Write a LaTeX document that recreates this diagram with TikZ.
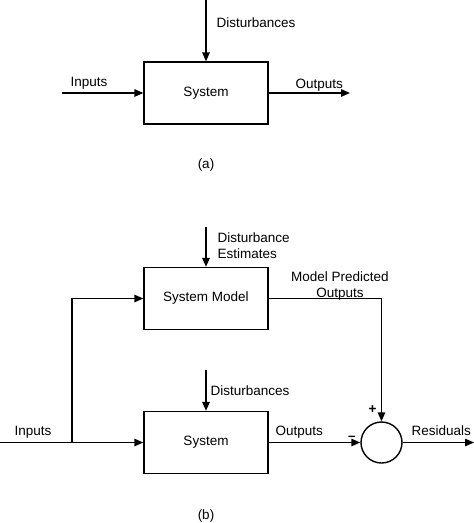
\documentclass[tikz,border=0pt]{standalone}
\usepackage{fontspec}
\setmainfont{Liberation Sans}
\usetikzlibrary{arrows.meta}

\begin{document}
\begin{tikzpicture}[x=1pt,y=-1pt,line width=1.4pt,>={Triangle[length=9pt,width=7.5pt]},
 font=\fontsize{13.5}{16}\selectfont,
 sysbox/.style={draw,minimum width=124pt,minimum height=62pt,inner sep=0pt},
 sumnode/.style={draw,circle,minimum size=41pt,inner sep=0pt},
 lbl/.style={anchor=base west,inner sep=0pt}]
 \useasboundingbox (0,0) rectangle (474,523); %枠
 % (a)
 \node[sysbox] (Sa) at (206,93) {System}; %システム
 \coordinate (Da) at (206,0); %外乱の始点
 \coordinate (Ia) at (62,93); %入力の始点
 \coordinate (Oa) at (350,93); %出力の終点
 \draw[->] (Da)--(Sa.north); %外乱
 \draw[->] (Ia)--(Sa.west); %入力
 \draw[->] (Sa.east)--(Oa); %出力
 \node[lbl] (DaL) at (216,27) {Disturbances};
 \node[lbl] (IaL) at (70,86.5) {Inputs};
 \node[lbl] (OaL) at (295,88) {Outputs};
 \node[anchor=base,inner sep=0pt] (capa) at (206,168.5) {(a)};
 % (b)
 \node[sysbox] (M) at (206,298.5) {System Model}; %モデル
 \node[sysbox] (Sb) at (206,442.5) {System}; %システム
 \node[sumnode] (Sum) at (381.5,442.5) {}; %加算点
 \coordinate (DE) at (206,227); %外乱推定の始点
 \coordinate (Db) at (206,370); %外乱の始点
 \coordinate (Ib) at (0,442.5); %入力の始点
 \coordinate (J) at (72,442.5); %分岐点
 \coordinate (R) at (474,442.5); %残差の終点
 \draw[->] (DE)--(M.north); %外乱推定
 \draw[->] (Db)--(Sb.north); %外乱
 \draw[->] (Ib)--(Sb.west); %入力
 \draw[->] (J)|-(M.west); %入力(モデル)
 \draw[->] (Sb.east)--(Sum.west); %出力
 \draw[->] (M.east)-|(Sum.north); %予測出力
 \draw[->] (Sum.east)--(R); %残差
 \node[lbl,align=left] (DEL) at (217,258.5) {Disturbance\\Estimates};
 \node[anchor=base,inner sep=0pt,align=center] (MPL) at (340,297) {Model Predicted\\Outputs};
 \node[lbl] (DbL) at (210,395.5) {Disturbances};
 \node[lbl] (IbL) at (14,435.5) {Inputs};
 \node[lbl] (ObL) at (275,435.5) {Outputs};
 \node[lbl] (RL) at (411,435.5) {Residuals};
 \node[inner sep=0pt] (plus) at (372.5,410) {\textbf{+}};
 \node[inner sep=0pt] (minus) at (352,438) {\textbf{–}};
 \node[anchor=base,inner sep=0pt] (capb) at (206,519) {(b)};
\end{tikzpicture}
\end{document}
